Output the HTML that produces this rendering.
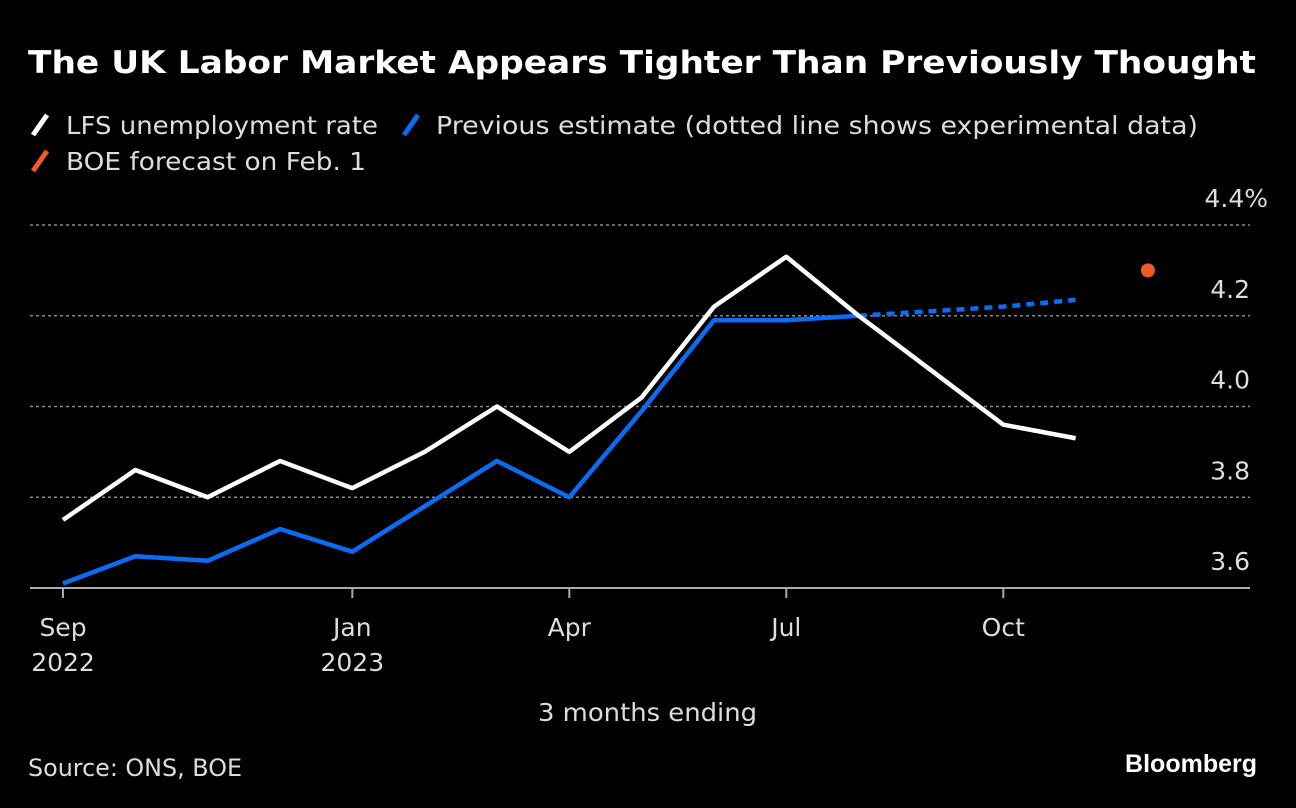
<!DOCTYPE html>
<html><head><meta charset="utf-8"><style>
html,body{margin:0;padding:0;background:#000;width:1296px;height:808px;overflow:hidden}
svg text{font-family:"DejaVu Sans","Liberation Sans",sans-serif;fill:#ddd}
</style></head><body>
<svg id="chart" width="1296" height="808">
<text x="28" y="73" font-size="31" font-weight="bold" textLength="1228" lengthAdjust="spacingAndGlyphs" style="fill:#fff">The UK Labor Market Appears Tighter Than Previously Thought</text>
<g>
<g><line x1="33" y1="135" x2="47" y2="115" stroke="#fff" stroke-width="5"/><text x="66" y="134" font-size="25" textLength="312" lengthAdjust="spacingAndGlyphs">LFS unemployment rate</text></g>
<g><line x1="404" y1="135" x2="418" y2="115" stroke="#0a6cf5" stroke-width="5"/><text x="436" y="134" font-size="25" textLength="762" lengthAdjust="spacingAndGlyphs">Previous estimate (dotted line shows experimental data)</text></g>
<g><line x1="33" y1="171" x2="47" y2="151" stroke="#f05a28" stroke-width="5"/><text x="66" y="170" font-size="25" textLength="300" lengthAdjust="spacingAndGlyphs">BOE forecast on Feb. 1</text></g>
</g>
<g id="grid"></g><g id="series"></g>
<text x="538" y="721" font-size="25" textLength="219" lengthAdjust="spacingAndGlyphs">3 months ending</text>
<text x="28" y="776" font-size="24" textLength="214" lengthAdjust="spacingAndGlyphs">Source: ONS, BOE</text>
<text x="1257" y="772" font-size="25" font-weight="bold" text-anchor="end" style="fill:#fff;font-family:'Liberation Sans',sans-serif">Bloomberg</text>
</svg>
<script>
const months=["Sep","Oct","Nov","Dec","Jan","Feb","Mar","Apr","May","Jun","Jul","Aug","Sep","Oct","Nov","Dec"];
const lfs=[3.75,3.86,3.8,3.88,3.82,3.9,4.0,3.9,4.02,4.22,4.33,4.2,4.08,3.96,3.93];
const prev=[3.61,3.67,3.66,3.73,3.68,3.78,3.88,3.8,3.99,4.19,4.19,4.2];
const prevExp=[4.2,4.21,4.22,4.235];
const boe=4.3;
const yTicks=[3.6,3.8,4.0,4.2,4.4];
const xTicks=[[0,"Sep","2022"],[4,"Jan","2023"],[7,"Apr",""],[10,"Jul",""],[13,"Oct",""]];
const NS="http://www.w3.org/2000/svg";
const X=i=>63+i*72.33, Y=v=>588-(v-3.6)*453.75;
function mk(t,a,p){const e=document.createElementNS(NS,t);for(const k in a)e.setAttribute(k,a[k]);p.appendChild(e);return e;}
const g=document.getElementById('grid'), s=document.getElementById('series');
yTicks.forEach(v=>{
 if(v>3.6){const l=mk('line',{x1:30,x2:1250,y1:Y(v),y2:Y(v),stroke:'#888','stroke-width':1.5,'stroke-dasharray':'3,3'},g);
 
 }
 const t=mk('text',{x:1250,y:Y(v)-18,'font-size':25,'text-anchor':'end'},g);t.textContent=v.toFixed(1)+(v===4.4?'%':'');
 if(v===4.4)t.setAttribute('x',1268);
 
 
});
const b=mk('line',{x1:30,x2:1250,y1:588,y2:588,stroke:'#aaa','stroke-width':2},g);


xTicks.forEach(([i,m,yr])=>{
 mk('line',{x1:X(i),x2:X(i),y1:588,y2:598,stroke:'#aaa','stroke-width':2},g);
 const t=mk('text',{x:X(i),y:636,'font-size':25,'text-anchor':'middle'},g);t.textContent=m;
 
 
 if(yr){const t2=mk('text',{x:X(i),y:671,'font-size':25,'text-anchor':'middle'},g);t2.textContent=yr;
 
 }
});
const pts=a=>a.map((v,i)=>X(i)+','+Y(v)).join(' ');
const pb=mk('polyline',{points:pts(prev),fill:'none',stroke:'#0a6cf5','stroke-width':4.5,'stroke-linejoin':'round'},s);


const pd=mk('polyline',{points:prevExp.map((v,i)=>X(i+11)+','+Y(v)).join(' '),fill:'none',stroke:'#0a6cf5','stroke-width':4.5,'stroke-dasharray':'8,6'},s);


const pw=mk('polyline',{points:pts(lfs),fill:'none',stroke:'#fff','stroke-width':4.5,'stroke-linejoin':'round'},s);


const c=mk('circle',{cx:X(15),cy:Y(boe),r:7,fill:'#f05a28'},s);


</script>
</body></html>
